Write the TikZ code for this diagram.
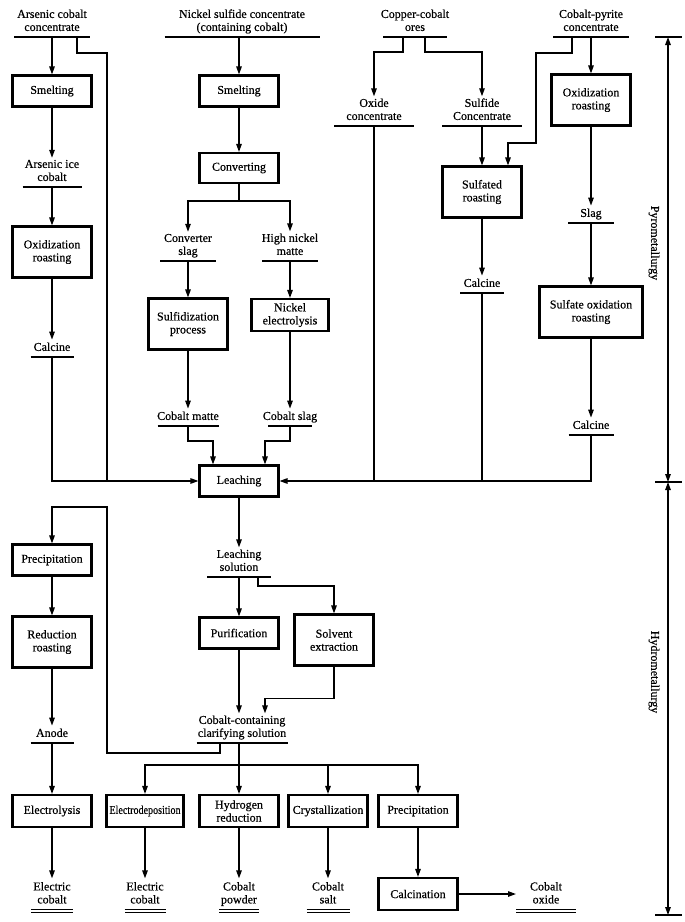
\documentclass[tikz,border=0pt]{standalone}
\usepackage{fontspec}
\setmainfont{Liberation Serif}[FakeBold=0.5]
\usepackage{graphicx}
\usetikzlibrary{arrows.meta,positioning,calc}

\begin{document}
\begin{tikzpicture}[x=1pt,y=-1pt,
    font=\fontsize{12}{13}\selectfont,
    line/.style={line width=1.3pt},
    arr/.style={line width=1.3pt,-{Triangle[length=8pt,width=5.5pt]}},
    dbl/.style={line width=1.3pt,{Triangle[length=8pt,width=5.5pt]}-{Triangle[length=8pt,width=5.5pt]}},
    box/.style={draw,line width=2.1pt,align=center,minimum width=79pt,minimum height=31pt,inner sep=2pt},
    tall/.style={minimum height=51pt},
    mat/.style={align=center,anchor=south,inner xsep=1pt,inner ysep=2pt,execute at end node=\strut},
    prod/.style={mat,inner ysep=3.5pt},
    bar/.style={line width=1.8pt},
    dbar/.style={double,double distance=2pt,line width=1.3pt}]
  \useasboundingbox (0,0) rectangle (685,922);

  % raw materials and intermediates
  \node[mat] (arsc) at (52,37) {Arsenic cobalt\\concentrate};
  \node[mat] (nisc) at (242,37) {Nickel sulfide concentrate\\(containing cobalt)};
  \node[mat] (cuco) at (415,37) {Copper-cobalt\\ores};
  \node[mat] (copy) at (591,37) {Cobalt-pyrite\\concentrate};
  \node[mat] (arsi) at (52,187) {Arsenic ice\\cobalt};
  \node[mat] (calc1) at (52,357) {Calcine};
  \node[mat] (cslag) at (188,261) {Converter\\slag};
  \node[mat] (hnm) at (290,261) {High nickel\\matte};
  \node[mat] (cmatte) at (188,426) {Cobalt matte};
  \node[mat] (cobslag) at (290,426) {Cobalt slag};
  \node[mat] (oxc) at (374,126) {Oxide\\concentrate};
  \node[mat] (sulc) at (482,126) {Sulfide\\Concentrate};
  \node[mat] (calc2) at (482,293) {Calcine};
  \node[mat] (slag) at (591,223) {Slag};
  \node[mat] (calc3) at (591,435) {Calcine};
  \node[mat] (leachsol) at (239,577) {Leaching\\solution};
  \node[mat] (clar) at (242,743) {Cobalt-containing\\clarifying solution};
  \node[mat] (anode) at (52,743) {Anode};

  % process steps
  \node[box] (sm1) at (52,91) {Smelting};
  \node[box,tall] (ox1) at (52,252) {Oxidization\\roasting};
  \node[box] (sm2) at (239,91) {Smelting};
  \node[box,minimum height=30pt] (conv) at (239,168) {Converting};
  \node[box,tall] (sulfid) at (188,324) {Sulfidization\\process};
  \node[box,minimum width=77pt,minimum height=32pt] (nielec) at (290,315) {Nickel\\electrolysis};
  \node[box] (leach) at (239,481) {Leaching};
  \node[box,tall] (sulfr) at (482,192) {Sulfated\\roasting};
  \node[box,tall] (ox2) at (591,100) {Oxidization\\roasting};
  \node[box,tall,minimum width=103pt] (sulfox) at (591,312) {Sulfate oxidation\\roasting};
  \node[box] (prec1) at (52,560) {Precipitation};
  \node[box,tall] (redr) at (52,642) {Reduction\\roasting};
  \node[box] (purif) at (239,633) {Purification};
  \node[box,tall] (solv) at (334,640) {Solvent\\extraction};
  \node[box,minimum height=32pt] (elys) at (52,811) {Electrolysis};
  \node[box,minimum width=77pt,minimum height=32pt] (edep) at (145,811) {\scalebox{0.84}[1]{Electrodeposition}};
  \node[box,minimum height=32pt] (hydro) at (239,811) {Hydrogen\\reduction};
  \node[box,minimum height=32pt] (cryst) at (328,811) {Crystallization};
  \node[box,minimum height=32pt] (prec2) at (418,811) {Precipitation};
  \node[box,minimum height=32pt] (calcn) at (418,894) {Calcination};

  % products
  \node[prod] (elco1) at (52,911) {Electric\\cobalt};
  \node[prod] (elco2) at (145,911) {Electric\\cobalt};
  \node[prod] (copow) at (239,911) {Cobalt\\powder};
  \node[prod] (cosalt) at (328,911) {Cobalt\\salt};
  \node[prod] (coox) at (546,911) {Cobalt\\oxide};

  \foreach \n/\w in {arsc/38,nisc/77.5,cuco/32,copy/38,arsi/29.5,calc1/21.5,cslag/28,hnm/28,
      cmatte/30.5,cobslag/22,oxc/40,sulc/40,calc2/22,slag/23,calc3/22.5,leachsol/32,clar/45.5,anode/21.5}
    \draw[bar] ([xshift=-\w]\n.south) -- ([xshift=\w]\n.south);
  \foreach \n/\w in {elco1/21,elco2/20.5,copow/20,cosalt/21.5,coox/30}
    \draw[dbar] ([xshift=-\w]\n.south) -- ([xshift=\w]\n.south);

  \coordinate (byp) at (107,507);
  \coordinate (cooxl) at ([xshift=-30pt]coox.south);

  % pyrometallurgy
  \draw[arr] (arsc.south) -- (sm1.north);
  \draw[line] ([xshift=25pt]arsc.south) -- ++(0,16) -| (byp |- leach.west);
  \draw[arr] (sm1.south) -- (arsi.north);
  \draw[arr] (arsi.south) -- (ox1.north);
  \draw[arr] (ox1.south) -- (calc1.north);
  \draw[arr] (calc1.south) |- (leach.west);
  \draw[arr] (sm2.north |- nisc.south) -- (sm2.north);
  \draw[arr] (sm2.south) -- (conv.north);
  \draw[line] (conv.south) -- ++(0,17) coordinate (cvs);
  \draw[arr] (cvs) -| (cslag.north);
  \draw[arr] (cvs) -| (hnm.north);
  \draw[arr] (cslag.south) -- (sulfid.north);
  \draw[arr] (hnm.south) -- (nielec.north);
  \draw[arr] (sulfid.south) -- (cmatte.north);
  \draw[arr] (nielec.south) -- (cobslag.north);
  \draw[arr] (cmatte.south) -- ++(0,15) -| ([xshift=-26pt]leach.north);
  \draw[arr] (cobslag.south) -- ++(0,15) -| ([xshift=26pt]leach.north);
  \draw[arr] ([xshift=-12pt]cuco.south) -- ++(0,15) -| (oxc.north);
  \draw[arr] ([xshift=10pt]cuco.south) -- ++(0,15) -| (sulc.north);
  \draw[line] (oxc.south) -- (oxc.south |- leach.east);
  \draw[arr] (sulc.south) -- (sulfr.north);
  \draw[arr] ([xshift=-19pt]copy.south) -- ++(0,16) -| ++(-36,90) -| ([xshift=26pt]sulfr.north);
  \draw[arr] (copy.south) -- (ox2.north);
  \draw[arr] (ox2.south) -- (slag.north);
  \draw[arr] (slag.south) -- (sulfox.north);
  \draw[arr] (sulfox.south) -- (calc3.north);
  \draw[arr] (sulfr.south) -- (calc2.north);
  \draw[line] (calc2.south) -- (calc2.south |- leach.east);
  \draw[arr] (calc3.south) |- (leach.east);

  % hydrometallurgy
  \draw[arr] (leach.south) -- (leachsol.north);
  \draw[arr] (leachsol.south) -- (purif.north);
  \draw[arr] ([xshift=19pt]leachsol.south) -- ++(0,9) -| (solv.north);
  \draw[arr] (purif.south) -- (purif.south |- clar.north);
  \draw[arr] (solv.south) -- ++(0,32) -| ([xshift=23pt]clar.north);
  \draw[arr] ([xshift=-22pt]clar.south) -- ++(0,10) -| (byp) -| (prec1.north);
  \draw[arr] (prec1.south) -- (redr.north);
  \draw[arr] (redr.south) -- (anode.north);
  \draw[arr] (anode.south) -- (elys.north);
  \draw[arr] (elys.south) -- (elco1.north);
  \draw[arr] (hydro.north |- clar.south) -- (hydro.north);
  \path (hydro.north |- clar.south) ++(0,22) coordinate (cls);
  \draw[arr] (cls) -| (edep.north);
  \draw[arr] (cls) -| (cryst.north);
  \draw[arr] (cls) -| (prec2.north);
  \foreach \b/\p in {edep/elco2,hydro/copow,cryst/cosalt}
    \draw[arr] (\b.south) -- (\p.north);
  \draw[arr] (prec2.south) -- (calcn.north);
  \draw[arr] (calcn.east) -- (calcn.east -| cooxl);

  % side scale
  \coordinate (pyt) at (668,37);
  \coordinate (mid) at (668,482);
  \coordinate (hyb) at (668,915);
  \draw[dbl] (pyt) -- (mid);
  \draw[dbl] (mid) -- (hyb);
  \foreach \c in {pyt,mid,hyb}
    \draw[bar] ([xshift=-13pt]\c) -- ([xshift=14pt]\c);
  \node[rotate=-90] (pyro) at (654,243) {Pyrometallurgy};
  \node[rotate=-90] (hydrom) at (654,672) {Hydrometallurgy};
\end{tikzpicture}
\end{document}
